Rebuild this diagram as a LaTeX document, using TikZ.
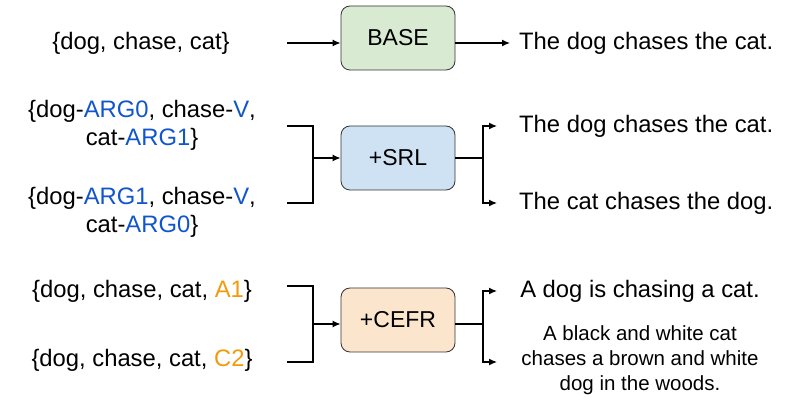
\documentclass[tikz,border=0pt]{standalone}
\usepackage{fontspec}
\setmainfont{Liberation Sans}
\begin{document}
\begin{tikzpicture}[x=1pt,y=-1pt,
  box/.style={draw=black!80,line width=0.8pt,rounded corners=9pt,minimum width=114pt,minimum height=64pt,font=\fontsize{23}{27}\selectfont},
  txt/.style={font=\fontsize{23.8}{28}\selectfont,align=center,inner sep=0pt},
  ln/.style={line width=1.3pt},
  ar/.style={ln,-{Latex[length=8pt,width=7pt]}}]
\usetikzlibrary{arrows.meta}
\definecolor{blu}{HTML}{1155CC}
\definecolor{org}{HTML}{F29A0A}
\useasboundingbox (0,0) rectangle (790,403);
% BASE
\node[box,fill={rgb,255:red,217;green,234;blue,211}] (b) at (398,38) {BASE};
\node[txt] (bl) at (141,43) {\{dog, chase, cat\}};
\node[txt,anchor=west] (br) at (519,43) {The dog chases the cat.};
\coordinate (bl1) at (287,43); \coordinate (be) at (510,43);
\draw[ar] (bl1) -- (b.west|-bl1);
\draw[ar] (b.east|-bl1) -- (be);
% SRL
\node[box,fill={rgb,255:red,207;green,226;blue,243}] (s) at (398,158) {+SRL};
\node[txt] (s1) at (142,125) {\{dog-\textcolor{blu}{ARG0}, chase-\textcolor{blu}{V},\\cat-\textcolor{blu}{ARG1}\}};
\node[txt] (s2) at (142,212) {\{dog-\textcolor{blu}{ARG1}, chase-\textcolor{blu}{V},\\cat-\textcolor{blu}{ARG0}\}};
\node[txt,anchor=west] (sr1) at (519,126) {The dog chases the cat.};
\node[txt,anchor=west] (sr2) at (519,203) {The cat chases the dog.};
\coordinate (sa) at (287,126); \coordinate (sb) at (287,203);
\coordinate (sm) at (313,158); \coordinate (sn) at (483,158);
\coordinate (se1) at (497,126); \coordinate (se2) at (497,203);
\draw[ln] (sa) -| (sm) |- (sb);
\draw[ar] (sm) -- (s.west);
\draw[ln] (s.east) -- (sn);
\draw[ar] (sn) |- (se1);
\draw[ar] (sn) |- (se2);
% CEFR
\node[box,fill={rgb,255:red,252;green,229;blue,205}] (c) at (398,320) {+CEFR};
\node[txt] (c1) at (142,291) {\{dog, chase, cat, \textcolor{org}{A1}\}};
\node[txt] (c2) at (142,360) {\{dog, chase, cat, \textcolor{org}{C2}\}};
\node[txt] (cr1) at (640,291) {A dog is chasing a cat.};
\node[txt,font=\fontsize{20.5}{25}\selectfont] (cr2) at (640,360) {A black and white cat\\chases a brown and white\\dog in the woods.};
\coordinate (ca) at (287,286); \coordinate (cb) at (287,362);
\coordinate (cm) at (313,324); \coordinate (cn) at (483,324);
\coordinate (ce1) at (497,291); \coordinate (ce2) at (497,362);
\draw[ln] (ca) -| (cm) |- (cb);
\draw[ar] (cm) -- (c.west|-cm);
\draw[ln] (c.east|-cm) -- (cn);
\draw[ar] (cn) |- (ce1);
\draw[ar] (cn) |- (ce2);
\end{tikzpicture}
\end{document}
